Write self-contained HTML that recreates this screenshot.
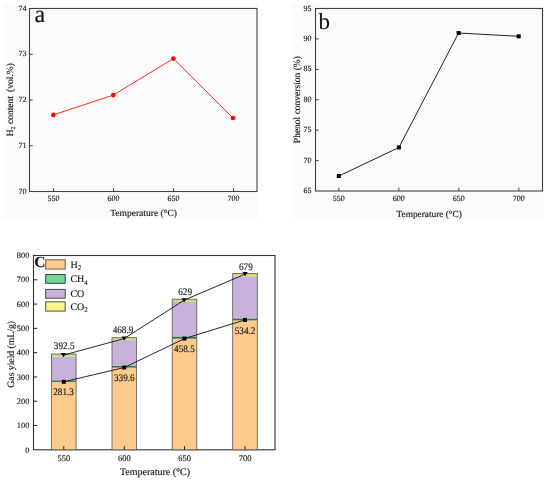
<!DOCTYPE html>
<html><head><meta charset="utf-8"><style>
html,body{margin:0;padding:0;background:#fff;}
svg{display:block;font-family:"Liberation Serif", serif;will-change:transform;}
svg text{fill:#141414;stroke:#141414;stroke-width:0.14px;text-rendering:geometricPrecision;}
</style></head><body>
<svg width="550" height="483" viewBox="0 0 550 483">
<rect width="550" height="483" fill="#fff"/>
<rect x="3.5" y="3.5" width="254.5" height="215.5" fill="#fbfbfb"/>
<rect x="292" y="3.5" width="252" height="215.5" fill="#fbfbfb"/>
<rect x="29.5" y="8.5" width="227.5" height="183.0" fill="none" stroke="#404040" stroke-width="1.1"/>
<text x="26.40" y="193.70" font-size="8" text-anchor="end">70</text>
<line x1="29.5" y1="145.75" x2="32.7" y2="145.75" stroke="#404040"/>
<text x="26.40" y="147.95" font-size="8" text-anchor="end">71</text>
<line x1="29.5" y1="100.00" x2="32.7" y2="100.00" stroke="#404040"/>
<text x="26.40" y="102.20" font-size="8" text-anchor="end">72</text>
<line x1="29.5" y1="54.25" x2="32.7" y2="54.25" stroke="#404040"/>
<text x="26.40" y="56.45" font-size="8" text-anchor="end">73</text>
<text x="26.40" y="10.70" font-size="8" text-anchor="end">74</text>
<line x1="53.5" y1="191.5" x2="53.5" y2="188.3" stroke="#404040"/>
<text x="53.50" y="201.20" font-size="8" text-anchor="middle">550</text>
<line x1="113.5" y1="191.5" x2="113.5" y2="188.3" stroke="#404040"/>
<text x="113.50" y="201.20" font-size="8" text-anchor="middle">600</text>
<line x1="173.5" y1="191.5" x2="173.5" y2="188.3" stroke="#404040"/>
<text x="173.50" y="201.20" font-size="8" text-anchor="middle">650</text>
<line x1="233.5" y1="191.5" x2="233.5" y2="188.3" stroke="#404040"/>
<text x="233.50" y="201.20" font-size="8" text-anchor="middle">700</text>
<text x="143.60" y="216.40" font-size="9.5" text-anchor="middle">Temperature (°C)</text>
<text transform="translate(12.5,99.7) rotate(-90)" font-size="9.5" text-anchor="middle">H<tspan font-size="5.9" dy="2.2">2</tspan><tspan dy="-2.2"> content</tspan><tspan dx="4.2">(vol.%)</tspan></text>
<text x="34.60" y="22.40" font-size="24.2" text-anchor="start">a</text>
<polyline points="53.3,114.9 113.3,95.1 173.4,58.6 233,118" fill="none" stroke="#ff2a2a" stroke-width="1"/>
<circle cx="53.3" cy="114.9" r="2.3" fill="#ff0000"/>
<circle cx="113.3" cy="95.1" r="2.3" fill="#ff0000"/>
<circle cx="173.4" cy="58.6" r="2.3" fill="#ff0000"/>
<circle cx="233" cy="118" r="2.3" fill="#ff0000"/>
<rect x="315.5" y="8.5" width="227.0" height="182.5" fill="none" stroke="#404040" stroke-width="1.1"/>
<text x="311.50" y="193.10" font-size="8" text-anchor="end">65</text>
<line x1="315.5" y1="160.58" x2="318.7" y2="160.58" stroke="#404040"/>
<text x="311.50" y="162.68" font-size="8" text-anchor="end">70</text>
<line x1="315.5" y1="130.17" x2="318.7" y2="130.17" stroke="#404040"/>
<text x="311.50" y="132.27" font-size="8" text-anchor="end">75</text>
<line x1="315.5" y1="99.75" x2="318.7" y2="99.75" stroke="#404040"/>
<text x="311.50" y="101.85" font-size="8" text-anchor="end">80</text>
<line x1="315.5" y1="69.33" x2="318.7" y2="69.33" stroke="#404040"/>
<text x="311.50" y="71.43" font-size="8" text-anchor="end">85</text>
<line x1="315.5" y1="38.92" x2="318.7" y2="38.92" stroke="#404040"/>
<text x="311.50" y="41.02" font-size="8" text-anchor="end">90</text>
<text x="311.50" y="10.60" font-size="8" text-anchor="end">95</text>
<line x1="338.8" y1="191" x2="338.8" y2="187.8" stroke="#404040"/>
<text x="338.80" y="201.30" font-size="8" text-anchor="middle">550</text>
<line x1="398.8" y1="191" x2="398.8" y2="187.8" stroke="#404040"/>
<text x="398.80" y="201.30" font-size="8" text-anchor="middle">600</text>
<line x1="458.8" y1="191" x2="458.8" y2="187.8" stroke="#404040"/>
<text x="458.80" y="201.30" font-size="8" text-anchor="middle">650</text>
<line x1="518.8" y1="191" x2="518.8" y2="187.8" stroke="#404040"/>
<text x="518.80" y="201.30" font-size="8" text-anchor="middle">700</text>
<text x="429.20" y="216.50" font-size="9.3" text-anchor="middle">Temperature (°C)</text>
<text transform="translate(300.2,99.6) rotate(-90)" font-size="9.5" text-anchor="middle">Phenol conversion (%)</text>
<text x="318.60" y="29.00" font-size="23" text-anchor="start">b</text>
<polyline points="338.8,176 398.9,147.5 458.6,33 518.7,36.3" fill="none" stroke="#222" stroke-width="1"/>
<rect x="336.8" y="174" width="4" height="4" fill="#000"/>
<rect x="396.9" y="145.5" width="4" height="4" fill="#000"/>
<rect x="456.6" y="31" width="4" height="4" fill="#000"/>
<rect x="516.7" y="34.3" width="4" height="4" fill="#000"/>
<rect x="33.5" y="255.5" width="241.5" height="194.3" fill="none" stroke="#333" stroke-width="1.1"/>
<text x="29.30" y="452.50" font-size="8.3" text-anchor="end">0</text>
<line x1="33.5" y1="425.51" x2="37.2" y2="425.51" stroke="#222"/>
<text x="29.30" y="428.21" font-size="8.3" text-anchor="end">100</text>
<line x1="33.5" y1="401.23" x2="37.2" y2="401.23" stroke="#222"/>
<text x="29.30" y="403.93" font-size="8.3" text-anchor="end">200</text>
<line x1="33.5" y1="376.94" x2="37.2" y2="376.94" stroke="#222"/>
<text x="29.30" y="379.64" font-size="8.3" text-anchor="end">300</text>
<line x1="33.5" y1="352.65" x2="37.2" y2="352.65" stroke="#222"/>
<text x="29.30" y="355.35" font-size="8.3" text-anchor="end">400</text>
<line x1="33.5" y1="328.36" x2="37.2" y2="328.36" stroke="#222"/>
<text x="29.30" y="331.06" font-size="8.3" text-anchor="end">500</text>
<line x1="33.5" y1="304.08" x2="37.2" y2="304.08" stroke="#222"/>
<text x="29.30" y="306.78" font-size="8.3" text-anchor="end">600</text>
<line x1="33.5" y1="279.79" x2="37.2" y2="279.79" stroke="#222"/>
<text x="29.30" y="282.49" font-size="8.3" text-anchor="end">700</text>
<text x="29.30" y="258.20" font-size="8.3" text-anchor="end">800</text>
<text x="63.80" y="461.30" font-size="8.5" text-anchor="middle">550</text>
<text x="124.30" y="461.30" font-size="8.5" text-anchor="middle">600</text>
<text x="184.50" y="461.30" font-size="8.5" text-anchor="middle">650</text>
<text x="245.00" y="461.30" font-size="8.5" text-anchor="middle">700</text>
<rect x="51.5" y="381.9" width="24.6" height="67.90000000000003" fill="#fdca8c"/>
<rect x="51.5" y="380.3" width="24.6" height="1.599999999999966" fill="#2e7650"/>
<rect x="51.5" y="356.5" width="24.6" height="23.80000000000001" fill="#c8b2db"/>
<rect x="51.5" y="354.0" width="24.6" height="2.5" fill="#d6d87a"/>
<rect x="51.5" y="354.0" width="24.6" height="95.80000000000001" fill="none" stroke="#555" stroke-width="0.8"/>
<rect x="112.0" y="367.6" width="24.6" height="82.19999999999999" fill="#fdca8c"/>
<rect x="112.0" y="365.9" width="24.6" height="1.7000000000000455" fill="#2e7650"/>
<rect x="112.0" y="340.2" width="24.6" height="25.69999999999999" fill="#c8b2db"/>
<rect x="112.0" y="337.7" width="24.6" height="2.5" fill="#d6d87a"/>
<rect x="112.0" y="337.7" width="24.6" height="112.10000000000002" fill="none" stroke="#555" stroke-width="0.8"/>
<rect x="172.2" y="338.7" width="24.6" height="111.10000000000002" fill="#fdca8c"/>
<rect x="172.2" y="336.5" width="24.6" height="2.1999999999999886" fill="#2e7650"/>
<rect x="172.2" y="302.0" width="24.6" height="34.5" fill="#c8b2db"/>
<rect x="172.2" y="299.2" width="24.6" height="2.8000000000000114" fill="#d6d87a"/>
<rect x="172.2" y="299.2" width="24.6" height="150.60000000000002" fill="none" stroke="#555" stroke-width="0.8"/>
<rect x="232.7" y="320.4" width="24.6" height="129.40000000000003" fill="#fdca8c"/>
<rect x="232.7" y="318.4" width="24.6" height="2.0" fill="#2e7650"/>
<rect x="232.7" y="276.3" width="24.6" height="42.099999999999966" fill="#c8b2db"/>
<rect x="232.7" y="273.4" width="24.6" height="2.900000000000034" fill="#d6d87a"/>
<rect x="232.7" y="273.4" width="24.6" height="176.40000000000003" fill="none" stroke="#555" stroke-width="0.8"/>
<line x1="63.8" y1="449.8" x2="63.8" y2="446.2" stroke="#222"/>
<line x1="124.3" y1="449.8" x2="124.3" y2="446.2" stroke="#222"/>
<line x1="184.5" y1="449.8" x2="184.5" y2="446.2" stroke="#222"/>
<line x1="245.0" y1="449.8" x2="245.0" y2="446.2" stroke="#222"/>
<polyline points="63.5,355.1 124.2,338.6 184.1,300.2 245.1,274.1" fill="none" stroke="#111" stroke-width="0.9"/>
<polyline points="63.8,381.8 124.3,367.5 184.45,338.6 244.95,319.95" fill="none" stroke="#111" stroke-width="0.9"/>
<path d="M60.9,353.1 L66.1,353.1 L63.5,357.3 Z" fill="#000"/>
<path d="M121.60000000000001,336.6 L126.8,336.6 L124.2,340.8 Z" fill="#000"/>
<path d="M181.5,298.2 L186.7,298.2 L184.1,302.4 Z" fill="#000"/>
<path d="M242.5,272.1 L247.7,272.1 L245.1,276.3 Z" fill="#000"/>
<rect x="61.8" y="379.8" width="4" height="4" fill="#000"/>
<rect x="122.3" y="365.5" width="4" height="4" fill="#000"/>
<rect x="182.45" y="336.6" width="4" height="4" fill="#000"/>
<rect x="242.95" y="317.95" width="4" height="4" fill="#000"/>
<text transform="translate(64.20,348.60) scale(0.92,1)" font-size="10" text-anchor="middle">392.5</text>
<text transform="translate(123.00,333.00) scale(0.92,1)" font-size="10" text-anchor="middle">468.9</text>
<text transform="translate(185.10,294.80) scale(0.92,1)" font-size="10" text-anchor="middle">629</text>
<text transform="translate(245.90,269.80) scale(0.92,1)" font-size="10" text-anchor="middle">679</text>
<text transform="translate(63.60,395.10) scale(0.92,1)" font-size="10" text-anchor="middle">281.3</text>
<text transform="translate(124.30,381.10) scale(0.92,1)" font-size="10" text-anchor="middle">339.6</text>
<text transform="translate(184.40,351.85) scale(0.92,1)" font-size="10" text-anchor="middle">458.5</text>
<text transform="translate(245.10,333.60) scale(0.92,1)" font-size="10" text-anchor="middle">534.2</text>
<rect x="45.7" y="259.8" width="19.5" height="9.30" fill="#fdca8c" stroke="#6e5a48" stroke-width="1"/>
<text x="70.40" y="267.75" font-size="10" text-anchor="start">H<tspan font-size="7" dy="2.7">2</tspan></text>
<rect x="45.7" y="274.5" width="19.5" height="8.80" fill="#74d396" stroke="#2c4a38" stroke-width="1"/>
<text x="70.40" y="282.20" font-size="10" text-anchor="start">CH<tspan font-size="7" dy="2.7">4</tspan></text>
<rect x="45.7" y="289.4" width="19.5" height="8.80" fill="#cbb3dc" stroke="#4b4252" stroke-width="1"/>
<text x="70.40" y="297.10" font-size="10" text-anchor="start">CO</text>
<rect x="45.7" y="301.8" width="19.5" height="9.30" fill="#fbf68b" stroke="#55533a" stroke-width="1"/>
<text x="70.40" y="309.75" font-size="10" text-anchor="start">CO<tspan font-size="7" dy="2.7">2</tspan></text>
<text x="34.30" y="266.70" font-size="15.5" text-anchor="start" font-weight="bold">C</text>
<text x="155.00" y="475.20" font-size="10" text-anchor="middle">Temperature (°C)</text>
<text transform="translate(13.5,354.3) rotate(-90)" font-size="9.7" text-anchor="middle">Gas yield (mL/g)</text>
</svg>
</body></html>
